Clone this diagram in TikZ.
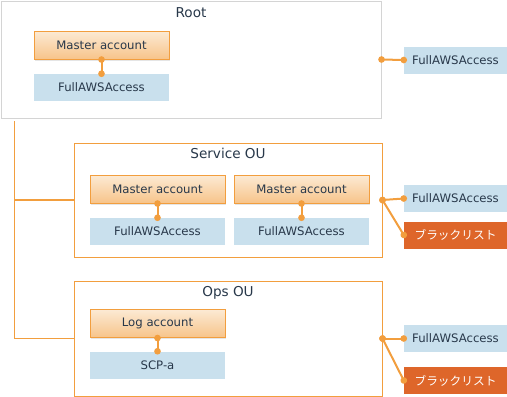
\documentclass[tikz,border=0pt]{standalone}
\usepackage{fontspec}
\setmainfont{DejaVu Sans}
\newfontfamily\jpfont{Noto Sans CJK JP}
\usetikzlibrary{positioning,arrows.meta,shadows}
\definecolor{txtclr}{RGB}{40,56,74}
\definecolor{edgeclr}{RGB}{242,158,62}
\definecolor{rootclr}{RGB}{212,212,212}
\definecolor{acctop}{RGB}{252,234,212}
\definecolor{accbot}{RGB}{247,196,138}
\definecolor{polclr}{RGB}{201,224,237}
\definecolor{denyclr}{RGB}{222,102,42}
\tikzset{
  ou/.style={rectangle,draw=edgeclr,line width=1pt,fill=white,
             minimum width=308pt,inner sep=0pt},
  rootbox/.style={ou,draw=rootclr,minimum width=380pt},
  title/.style={font=\fontsize{13.6}{15}\selectfont,text=txtclr},
  acct/.style={rectangle,draw=edgeclr,line width=1pt,
               top color=acctop,bottom color=accbot,
               minimum width=135pt,minimum height=28pt,inner sep=0pt,
               font=\fontsize{11.7}{13}\selectfont,text=txtclr,
               drop shadow={opacity=0.2,shadow xshift=1pt,shadow yshift=-1.5pt}},
  pol/.style={rectangle,fill=polclr,minimum width=135pt,minimum height=27pt,
              inner sep=0pt,font=\fontsize{11.7}{13}\selectfont,text=txtclr},
  polr/.style={pol,minimum width=103pt},
  deny/.style={polr,fill=denyclr,text=white,
               font=\jpfont\fontsize{11.7}{13}\selectfont},
  link/.style={draw=edgeclr,line width=2pt,
               {Circle[length=6.5pt]}-{Circle[length=6.5pt]},
               shorten <=-3.2pt,shorten >=-3.2pt},
  trunk/.style={draw=edgeclr,line width=1.7pt},
}

\begin{document}
\begin{tikzpicture}[x=1pt,y=-1pt]
\useasboundingbox (0,0) rectangle (507,397);

% Root
\node[rootbox,minimum height=117pt] (root) at (191,59.5) {};
\node[title] (roottitle) at (191,12.5) {Root};
\node[acct] (rootacc) at (101.5,45) {Master account};
\node[pol]  (rootpol) at (101.5,87.5) {FullAWSAccess};
\node[polr] (rootscp) at (455.5,60) {FullAWSAccess};

% Service OU
\node[ou,minimum height=114pt] (svc) at (228,200) {};
\node[title] (svctitle) at (228,153.5) {Service OU};
\node[acct] (svcaccA) at (157.5,189) {Master account};
\node[pol]  (svcpolA) at (157.5,231.5) {FullAWSAccess};
\node[acct] (svcaccB) at (301.5,189) {Master account};
\node[pol]  (svcpolB) at (301.5,231.5) {FullAWSAccess};
\node[polr] (svcscp)  at (455.5,198.5) {FullAWSAccess};
\node[deny] (svcdeny) at (455.5,235) {ブラックリスト};

% Ops OU
\node[ou,minimum height=115pt] (ops) at (228,338.5) {};
\node[title] (opstitle) at (228,292.5) {Ops OU};
\node[acct] (opsacc) at (157.5,323.5) {Log account};
\node[pol]  (opspol) at (157.5,365) {SCP-a};
\node[polr] (opsscp)  at (455.5,338.5) {FullAWSAccess};
\node[deny] (opsdeny) at (455.5,380.5) {ブラックリスト};

% Tree
\coordinate (trunk) at (14.5,121);
\draw[trunk] (trunk) |- (ops.west);
\draw[trunk] (trunk |- svc.west) -- (svc.west);

% Attachments
\draw[link] (rootacc) -- (rootpol);
\draw[link] (svcaccA) -- (svcpolA);
\draw[link] (svcaccB) -- (svcpolB);
\draw[link] (opsacc)  -- (opspol);

\draw[link] (root.east) -- (rootscp.west);
\draw[link] (svc.east) -- (svcscp.west);
\draw[link] (svc.east) -- (svcdeny.west);
\draw[link] (ops.east) -- (opsscp.west);
\draw[link] (ops.east) -- (opsdeny.west);

\end{tikzpicture}
\end{document}
